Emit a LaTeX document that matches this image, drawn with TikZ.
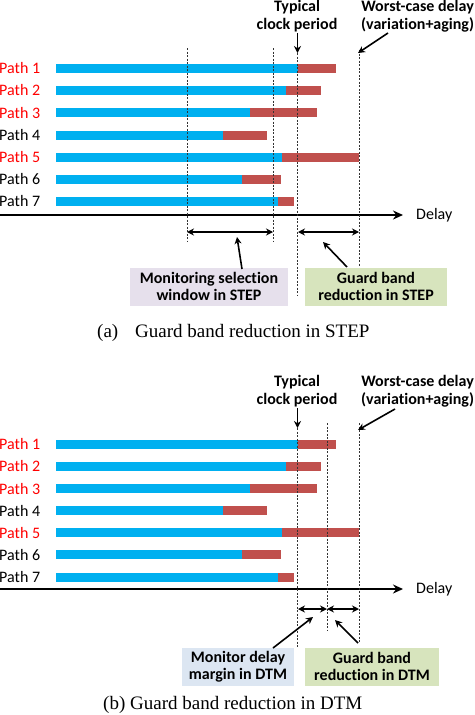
\documentclass[tikz,border=0pt]{standalone}
\usepackage{fontspec}
\setmainfont{Liberation Serif}
\newfontfamily\carl[Ligatures=NoCommon]{Carlito}
\usetikzlibrary{arrows.meta}
\definecolor{barblue}{HTML}{00B0F0}
\definecolor{barred}{HTML}{C0504D}
\definecolor{boxpurple}{HTML}{E6E0EC}
\definecolor{boxgreen}{HTML}{D7E4BD}
\definecolor{boxblue}{HTML}{DCE6F2}
\definecolor{pathred}{HTML}{FF0000}
\newcommand\carlfont{\carl\fontsize{16}{18.5}\selectfont}
\newcommand\carlbold{\carl\bfseries\fontsize{16}{17.5}\selectfont}
\newcommand\capfont{\fontsize{19}{22}\selectfont}
\begin{document}
\begin{tikzpicture}[x=1pt,y=-1pt,
  lbl/.style={font=\carlfont, inner sep=0pt},
  blbl/.style={font=\carlbold, inner sep=0pt, align=center},
  arr/.style={line width=1.6pt, -{Stealth[length=7pt,width=7pt]}},
  darr/.style={line width=1.6pt, {Stealth[length=7pt,width=7pt]}-{Stealth[length=7pt,width=7pt]}},
  axisline/.style={line width=2pt, -{Stealth[length=10pt,width=9pt]}},
  guide/.style={line width=0.7pt, black!80, dash pattern=on 2pt off 1.5pt},
  infobox/.style={fill=#1, font=\carlbold, inner sep=0pt, align=center, minimum height=38pt},
  capt/.style={font=\capfont, inner sep=0pt, anchor=base west}]
\useasboundingbox (0,0) rectangle (474,715);

% ================= Panel (a) =================
\foreach \y/\b/\r/\c [count=\i] in {68/298/336/pathred, 90.2/286/321/pathred, 112.6/250/317/pathred, 135/223/267/black, 157/282/359/pathred, 179/242/281/black, 201.2/278/294/black}{
  \fill[barblue] (56,\y-4.5) rectangle (\b,\y+4.5);
  \fill[barred] (\b,\y-4.5) rectangle (\r,\y+4.5);
  \node[lbl, text=\c, anchor=west] (pa\i) at (-1,\y) {Path \i};
}
\coordinate (axA0) at (0,215);
\coordinate (axA1) at (403,215);
\draw[axisline] (axA0) -- (axA1);
\node[lbl, anchor=west] (delayA) at (416,215) {Delay};

\node[blbl] (typA) at (297,16) {Typical\\clock period};
\node[blbl, anchor=west] (wcA) at (361,16) {Worst-case delay\\(variation+aging)};

\coordinate (gA1t) at (187,48);  \coordinate (gA1b) at (187,242);
\coordinate (gA2t) at (273,48);  \coordinate (gA2b) at (273,242);
\coordinate (gA3t) at (297.5,53);  \coordinate (gA3b) at (297.5,295);
\coordinate (gA4t) at (359,50);  \coordinate (gA4b) at (359,267);
\draw[guide] (gA1t) -- (gA1b);
\draw[guide] (gA2t) -- (gA2b);
\draw[guide] (gA3t) -- (gA3b);
\draw[guide] (gA4t) -- (gA4b);

\coordinate (typAs) at (297.5,33);
\draw[arr] (typAs) -- (gA3t);
\coordinate (wcAs) at (388,33);
\coordinate (wcAe) at (358,53);
\draw[arr] (wcAs) -- (wcAe);

\coordinate (mwA0) at (187,232); \coordinate (mwA1) at (273,232);
\draw[darr] (mwA0) -- (mwA1);
\coordinate (gbA0) at (298,232); \coordinate (gbA1) at (359,232);
\draw[darr] (gbA0) -- (gbA1);

\node[infobox=boxpurple, minimum width=158pt] (monA) at (209,286.5) {Monitoring selection\\window in STEP};
\node[infobox=boxgreen, minimum width=142pt] (grdA) at (376,286.5) {Guard band\\reduction in STEP};

\coordinate (pmA0) at (242,269); \coordinate (pmA1) at (237,237);
\draw[arr] (pmA0) -- (pmA1);
\coordinate (pgA0) at (347,267); \coordinate (pgA1) at (323,242);
\draw[arr] (pgA0) -- (pgA1);

\node[capt] (capA1) at (97,337) {(a)};
\node[capt] (capA2) at (135,337) {Guard band reduction in STEP};

% ================= Panel (b) =================
\foreach \y/\b/\r/\c [count=\i] in {444/298/336/pathred, 466.3/286/321/pathred, 488.6/250/317/pathred, 510.8/223/267/black, 532.6/282/359/pathred, 554.8/242/281/black, 577/278/294/black}{
  \fill[barblue] (56,\y-4.5) rectangle (\b,\y+4.5);
  \fill[barred] (\b,\y-4.5) rectangle (\r,\y+4.5);
  \node[lbl, text=\c, anchor=west] (pb\i) at (-1,\y) {Path \i};
}
\coordinate (axB0) at (0,589);
\coordinate (axB1) at (403,589);
\draw[axisline] (axB0) -- (axB1);
\node[lbl, anchor=west] (delayB) at (416,589) {Delay};

\node[blbl] (typB) at (297,391) {Typical\\clock period};
\node[blbl, anchor=west] (wcB) at (361,391) {Worst-case delay\\(variation+aging)};

\coordinate (gB1t) at (297.5,428);  \coordinate (gB1b) at (297.5,648);
\coordinate (gB2t) at (327,423);  \coordinate (gB2b) at (327,630);
\coordinate (gB3t) at (359,423);  \coordinate (gB3b) at (359,643);
\draw[guide] (gB1t) -- (gB1b);
\draw[guide] (gB2t) -- (gB2b);
\draw[guide] (gB3t) -- (gB3b);

\coordinate (typBs) at (297.5,408);
\draw[arr] (typBs) -- (gB1t);
\coordinate (wcBs) at (395,409);
\coordinate (wcBe) at (358,430);
\draw[arr] (wcBs) -- (wcBe);

\coordinate (mdB0) at (298,609); \coordinate (mdB1) at (327,609);
\draw[darr] (mdB0) -- (mdB1);
\coordinate (gbB0) at (327,609); \coordinate (gbB1) at (359,609);
\draw[darr] (gbB0) -- (gbB1);

\node[infobox=boxblue, minimum width=112pt] (monB) at (238,666.5) {Monitor delay\\margin in DTM};
\node[infobox=boxgreen, minimum width=134pt] (grdB) at (372,666.5) {Guard band\\reduction in DTM};

\coordinate (pmB0) at (273,648); \coordinate (pmB1) at (313,617);
\draw[arr] (pmB0) -- (pmB1);
\coordinate (pgB0) at (358,643); \coordinate (pgB1) at (335,620);
\draw[arr] (pgB0) -- (pgB1);

\node[capt] (capB) at (103,709.5) {(b) Guard band reduction in DTM};
\end{tikzpicture}
\end{document}
